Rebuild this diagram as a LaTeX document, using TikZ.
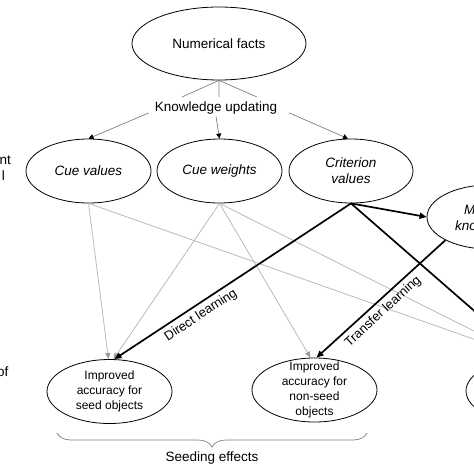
\documentclass[tikz,border=0pt]{standalone}
\usepackage{fontspec}
\setmainfont{Liberation Sans}
\usepackage{tikz}
\usetikzlibrary{shapes.geometric,arrows.meta,decorations.pathreplacing}
\tikzstyle{txt} = [font=\fontsize{13.5}{16}\selectfont]
\tikzstyle{oval} = [draw, ellipse, line width=0.8pt, inner sep=0pt, align=center, minimum width=125pt, minimum height=64pt, txt]
\tikzstyle{cue} = [oval, font=\fontsize{13.5}{16}\selectfont\itshape]
\tikzstyle{efftxt} = [align=center, font=\fontsize{12}{15}\selectfont]
\tikzstyle{faint} = [draw=black!27, line width=0.8pt, -{Triangle[length=6pt,width=5pt,color=black!40]}]
\tikzstyle{update} = [draw=black!50, line width=0.7pt, -{Triangle[length=5pt,width=5pt,color=black]}]
\tikzstyle{strong} = [draw=black, line width=1.7pt, -{Triangle[length=7pt,width=6pt]}]
\tikzstyle{edgelabel} = [sloped, below=3pt, inner sep=1pt, font=\fontsize{13}{15}\selectfont]

\begin{document}
\begin{tikzpicture}[x=1pt,y=-1pt]
\useasboundingbox (0,0) rectangle (474,474);
\clip (0,0) rectangle (474,474);
% top
\node[oval, minimum width=174pt, minimum height=73pt] (nf) at (219,43.5) {Numerical facts};
\node[txt, inner sep=2pt] (ku) at (216,108) {Knowledge updating};
\coordinate (kuL) at (182,97);
\coordinate (kuM) at (219,97);
\coordinate (kuR) at (257,97);
\draw[black!50, line width=0.7pt] (nf.south) -- (kuL) (nf.south) -- (kuM) (nf.south) -- (kuR);
% knowledge components
\node[cue] (cv) at (88.5,171) {Cue values};
\node[cue] (cw) at (219.5,171) {Cue weights};
\node[cue, minimum width=124pt] (crit) at (351,171) {Criterion\\values};
\node[oval, minimum width=124pt] (mk) at (489,217) {};
\node[txt, font=\fontsize{13.5}{16}\selectfont\itshape, anchor=west, inner sep=0pt] (mkA) at (464,210) {M};
\node[txt, font=\fontsize{13.5}{16}\selectfont\itshape, anchor=west, inner sep=0pt] (mkB) at (455,226) {kno};
\draw[update] ([xshift=-4pt,yshift=-5pt]ku.west) -- (cv.north);
\draw[update] (ku.south) -- (cw.north);
\draw[update] ([xshift=10pt,yshift=-5pt]ku.east) -- ([xshift=-3pt]crit.north);
% effects
\node[oval] (seed) at (109.5,391.5) {};
\node[efftxt] (seedtxt) at (seed) {Improved\\accuracy for\\seed objects};
\node[oval] (nonseed) at (314.5,390) {};
\node[efftxt] (nonseedtxt) at (nonseed) {Improved\\accuracy for\\non-seed\\objects};
\node[oval, minimum width=126pt] (other) at (529,391) {};
% left side
\node[txt, anchor=east, inner sep=0pt] (lt1) at (11,160) {nt};
\node[txt, anchor=east, inner sep=0pt] (lt2) at (5,176) {l};
\node[txt, anchor=east, inner sep=0pt] (lt3) at (8.5,372) {of};
% connectors
\draw[faint] (cv.south) -- ([xshift=-1pt]seed.north);
\draw[faint] (cw.south) -- ([xshift=4pt]seed.north);
\draw[faint] (cw.south) -- ([xshift=-4pt]nonseed.north);
\draw[faint] (cv.south) -- (other.north);
\draw[faint] (cw.south) -- (other.north);
\draw[strong] (crit.south) -- node[edgelabel, pos=0.66] {Direct learning} ([xshift=5pt]seed.north);
\draw[strong] (crit.south) -- (mk.west);
\draw[strong] (crit.south) -- (other.north);
\draw[strong] (mk.208) -- node[edgelabel, pos=0.54] {Transfer learning} ([xshift=2pt]nonseed.north);
% brace
\draw[black!50, line width=0.7pt, decorate, decoration={brace, mirror, amplitude=14pt}] (57,433) -- (367,433);
\node[txt] (se) at (212,458) {Seeding effects};
\end{tikzpicture}
\end{document}
